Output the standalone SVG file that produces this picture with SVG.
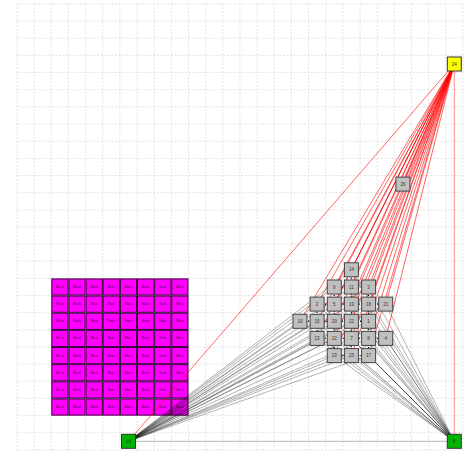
<svg xmlns="http://www.w3.org/2000/svg" width="474" height="456" viewBox="0 0 474 456">
<style>
.grid{stroke:#dcdcdc;stroke-width:0.8;stroke-dasharray:2 1.5;fill:none}
.red{stroke:#ff0000;stroke-opacity:0.75;stroke-width:0.8;fill:none}
.pink{stroke:#ff0000;stroke-opacity:0.45;stroke-width:1;fill:none}
.gry{stroke:#000;stroke-opacity:0.5;stroke-width:0.6;fill:none}
.adj{stroke:#000;stroke-width:1.2;stroke-dasharray:1 1;fill:none}
.n rect{fill:#c0c0c0;stroke:#444;stroke-width:1}
.n text,.b text,.g text,.y text{font-family:"Liberation Sans",Arial,sans-serif;font-size:4.5px;fill:#333;text-anchor:middle;dominant-baseline:central}
.g rect{fill:#00b400;stroke:#333;stroke-width:1}
.y rect{fill:#ffff00;stroke:#333;stroke-width:1}
.b rect{fill:#ff00ff;stroke:#3a003a;stroke-width:1}
.b text{font-size:3.2px;fill:#500050}
</style>
<rect width="474" height="456" fill="#fff"/>
<path class="grid" d="M17 4V450M34.15 4V450M51.3 4V450M68.45 4V450M85.6 4V450M102.75 4V450M119.9 4V450M137.05 4V450M154.2 4V450M171.35 4V450M188.5 4V450M205.65 4V450M222.8 4V450M239.95 4V450M257.1 4V450M274.25 4V450M291.4 4V450M308.55 4V450M325.7 4V450M342.85 4V450M360 4V450M377.15 4V450M394.3 4V450M411.45 4V450M428.6 4V450M445.75 4V450M462.9 4V450
M17 4H463M17 21.15H463M17 38.3H463M17 55.45H463M17 72.6H463M17 89.75H463M17 106.9H463M17 124.05H463M17 141.2H463M17 158.35H463M17 175.5H463M17 192.65H463M17 209.8H463M17 226.95H463M17 244.1H463M17 261.25H463M17 278.4H463M17 295.55H463M17 312.7H463M17 329.85H463M17 347H463M17 364.15H463M17 381.3H463M17 398.45H463M17 415.6H463M17 432.75H463M17 449.9H463"/>

<g id="blocks" class="b">
<g id="b-r0">
<rect x="51.8" y="278.9" width="16.2" height="16.2"/><text x="59.9" y="287">Block</text>
<rect x="68.9" y="278.9" width="16.2" height="16.2"/><text x="77" y="287">Block</text>
<rect x="86.1" y="278.9" width="16.2" height="16.2"/><text x="94.2" y="287">Block</text>
<rect x="103.2" y="278.9" width="16.2" height="16.2"/><text x="111.3" y="287">Block</text>
<rect x="120.4" y="278.9" width="16.2" height="16.2"/><text x="128.5" y="287">Block</text>
<rect x="137.5" y="278.9" width="16.2" height="16.2"/><text x="145.6" y="287">Block</text>
<rect x="154.7" y="278.9" width="16.2" height="16.2"/><text x="162.8" y="287">Block</text>
<rect x="171.8" y="278.9" width="16.2" height="16.2"/><text x="179.9" y="287">Block</text>
</g>
<g id="b-r1" transform="translate(0,17.15)">
<rect x="51.8" y="278.9" width="16.2" height="16.2"/><text x="59.9" y="287">Block</text>
<rect x="68.9" y="278.9" width="16.2" height="16.2"/><text x="77" y="287">Block</text>
<rect x="86.1" y="278.9" width="16.2" height="16.2"/><text x="94.2" y="287">Block</text>
<rect x="103.2" y="278.9" width="16.2" height="16.2"/><text x="111.3" y="287">Block</text>
<rect x="120.4" y="278.9" width="16.2" height="16.2"/><text x="128.5" y="287">Block</text>
<rect x="137.5" y="278.9" width="16.2" height="16.2"/><text x="145.6" y="287">Block</text>
<rect x="154.7" y="278.9" width="16.2" height="16.2"/><text x="162.8" y="287">Block</text>
<rect x="171.8" y="278.9" width="16.2" height="16.2"/><text x="179.9" y="287">Block</text>
</g>
<g id="b-r2" transform="translate(0,34.3)">
<rect x="51.8" y="278.9" width="16.2" height="16.2"/><text x="59.9" y="287">Block</text>
<rect x="68.9" y="278.9" width="16.2" height="16.2"/><text x="77" y="287">Block</text>
<rect x="86.1" y="278.9" width="16.2" height="16.2"/><text x="94.2" y="287">Block</text>
<rect x="103.2" y="278.9" width="16.2" height="16.2"/><text x="111.3" y="287">Block</text>
<rect x="120.4" y="278.9" width="16.2" height="16.2"/><text x="128.5" y="287">Block</text>
<rect x="137.5" y="278.9" width="16.2" height="16.2"/><text x="145.6" y="287">Block</text>
<rect x="154.7" y="278.9" width="16.2" height="16.2"/><text x="162.8" y="287">Block</text>
<rect x="171.8" y="278.9" width="16.2" height="16.2"/><text x="179.9" y="287">Block</text>
</g>
<g id="b-r3" transform="translate(0,51.45)">
<rect x="51.8" y="278.9" width="16.2" height="16.2"/><text x="59.9" y="287">Block</text>
<rect x="68.9" y="278.9" width="16.2" height="16.2"/><text x="77" y="287">Block</text>
<rect x="86.1" y="278.9" width="16.2" height="16.2"/><text x="94.2" y="287">Block</text>
<rect x="103.2" y="278.9" width="16.2" height="16.2"/><text x="111.3" y="287">Block</text>
<rect x="120.4" y="278.9" width="16.2" height="16.2"/><text x="128.5" y="287">Block</text>
<rect x="137.5" y="278.9" width="16.2" height="16.2"/><text x="145.6" y="287">Block</text>
<rect x="154.7" y="278.9" width="16.2" height="16.2"/><text x="162.8" y="287">Block</text>
<rect x="171.8" y="278.9" width="16.2" height="16.2"/><text x="179.9" y="287">Block</text>
</g>
<g id="b-r4" transform="translate(0,68.6)">
<rect x="51.8" y="278.9" width="16.2" height="16.2"/><text x="59.9" y="287">Block</text>
<rect x="68.9" y="278.9" width="16.2" height="16.2"/><text x="77" y="287">Block</text>
<rect x="86.1" y="278.9" width="16.2" height="16.2"/><text x="94.2" y="287">Block</text>
<rect x="103.2" y="278.9" width="16.2" height="16.2"/><text x="111.3" y="287">Block</text>
<rect x="120.4" y="278.9" width="16.2" height="16.2"/><text x="128.5" y="287">Block</text>
<rect x="137.5" y="278.9" width="16.2" height="16.2"/><text x="145.6" y="287">Block</text>
<rect x="154.7" y="278.9" width="16.2" height="16.2"/><text x="162.8" y="287">Block</text>
<rect x="171.8" y="278.9" width="16.2" height="16.2"/><text x="179.9" y="287">Block</text>
</g>
<g id="b-r5" transform="translate(0,85.75)">
<rect x="51.8" y="278.9" width="16.2" height="16.2"/><text x="59.9" y="287">Block</text>
<rect x="68.9" y="278.9" width="16.2" height="16.2"/><text x="77" y="287">Block</text>
<rect x="86.1" y="278.9" width="16.2" height="16.2"/><text x="94.2" y="287">Block</text>
<rect x="103.2" y="278.9" width="16.2" height="16.2"/><text x="111.3" y="287">Block</text>
<rect x="120.4" y="278.9" width="16.2" height="16.2"/><text x="128.5" y="287">Block</text>
<rect x="137.5" y="278.9" width="16.2" height="16.2"/><text x="145.6" y="287">Block</text>
<rect x="154.7" y="278.9" width="16.2" height="16.2"/><text x="162.8" y="287">Block</text>
<rect x="171.8" y="278.9" width="16.2" height="16.2"/><text x="179.9" y="287">Block</text>
</g>
<g id="b-r6" transform="translate(0,102.9)">
<rect x="51.8" y="278.9" width="16.2" height="16.2"/><text x="59.9" y="287">Block</text>
<rect x="68.9" y="278.9" width="16.2" height="16.2"/><text x="77" y="287">Block</text>
<rect x="86.1" y="278.9" width="16.2" height="16.2"/><text x="94.2" y="287">Block</text>
<rect x="103.2" y="278.9" width="16.2" height="16.2"/><text x="111.3" y="287">Block</text>
<rect x="120.4" y="278.9" width="16.2" height="16.2"/><text x="128.5" y="287">Block</text>
<rect x="137.5" y="278.9" width="16.2" height="16.2"/><text x="145.6" y="287">Block</text>
<rect x="154.7" y="278.9" width="16.2" height="16.2"/><text x="162.8" y="287">Block</text>
<rect x="171.8" y="278.9" width="16.2" height="16.2"/><text x="179.9" y="287">Block</text>
</g>
<g id="b-r7" transform="translate(0,120.05)">
<rect x="51.8" y="278.9" width="16.2" height="16.2"/><text x="59.9" y="287">Block</text>
<rect x="68.9" y="278.9" width="16.2" height="16.2"/><text x="77" y="287">Block</text>
<rect x="86.1" y="278.9" width="16.2" height="16.2"/><text x="94.2" y="287">Block</text>
<rect x="103.2" y="278.9" width="16.2" height="16.2"/><text x="111.3" y="287">Block</text>
<rect x="120.4" y="278.9" width="16.2" height="16.2"/><text x="128.5" y="287">Block</text>
<rect x="137.5" y="278.9" width="16.2" height="16.2"/><text x="145.6" y="287">Block</text>
<rect x="154.7" y="278.9" width="16.2" height="16.2"/><text x="162.8" y="287">Block</text>
<rect x="171.8" y="278.9" width="16.2" height="16.2"/><text x="179.9" y="287">Block</text>
</g>
</g>

<g id="connectors">
<path class="gry" d="M128.5 441.3H454.3"/>
<path class="gry" d="M128.5 441.3L351.4 269.8M128.5 441.3L334.3 287M128.5 441.3L351.4 287M128.5 441.3L368.6 287M128.5 441.3L317.1 304.1M128.5 441.3L334.3 304.1M128.5 441.3L351.4 304.1M128.5 441.3L368.6 304.1M128.5 441.3L385.7 304.1M128.5 441.3L300 321.3M128.5 441.3L317.1 321.3M128.5 441.3L334.3 321.3M128.5 441.3L351.4 321.3M128.5 441.3L368.6 321.3M128.5 441.3L317.1 338.4M128.5 441.3L334.3 338.4M128.5 441.3L351.4 338.4M128.5 441.3L368.6 338.4M128.5 441.3L385.7 338.4M128.5 441.3L334.3 355.6M128.5 441.3L351.4 355.6M128.5 441.3L368.6 355.6"/>
<path class="gry" d="M454.3 441.3L351.4 269.8M454.3 441.3L334.3 287M454.3 441.3L351.4 287M454.3 441.3L368.6 287M454.3 441.3L317.1 304.1M454.3 441.3L334.3 304.1M454.3 441.3L351.4 304.1M454.3 441.3L368.6 304.1M454.3 441.3L385.7 304.1M454.3 441.3L300 321.3M454.3 441.3L317.1 321.3M454.3 441.3L334.3 321.3M454.3 441.3L351.4 321.3M454.3 441.3L368.6 321.3M454.3 441.3L317.1 338.4M454.3 441.3L334.3 338.4M454.3 441.3L351.4 338.4M454.3 441.3L368.6 338.4M454.3 441.3L385.7 338.4M454.3 441.3L334.3 355.6M454.3 441.3L351.4 355.6M454.3 441.3L368.6 355.6"/>
<path class="red" d="M454.3 64L128.5 441.3M454.3 64L402.9 184.1"/>
<path class="pink" d="M454.3 64V441.3"/>
<path class="red" d="M454.3 64L351.4 269.8M454.3 64L334.3 287M454.3 64L351.4 287M454.3 64L368.6 287M454.3 64L317.1 304.1M454.3 64L334.3 304.1M454.3 64L351.4 304.1M454.3 64L368.6 304.1M454.3 64L385.7 304.1M454.3 64L300 321.3M454.3 64L317.1 321.3M454.3 64L334.3 321.3M454.3 64L351.4 321.3M454.3 64L368.6 321.3M454.3 64L317.1 338.4M454.3 64L334.3 338.4M454.3 64L351.4 338.4M454.3 64L368.6 338.4M454.3 64L385.7 338.4M454.3 64L334.3 355.6M454.3 64L351.4 355.6M454.3 64L368.6 355.6"/>
<path class="adj" d="M334.3 287H368.6M317.1 304.1H385.7M300 321.3H368.6M317.1 338.4H385.7M334.3 355.6H368.6M317.1 304.1V338.4M334.3 287V355.6M351.4 269.8V355.6M368.6 287V355.6"/>
</g>

<g id="n14" class="n"><rect x="344.4" y="262.8" width="14" height="14"/><text x="351.4" y="269.8">14</text></g>
<g id="n9" class="n"><rect x="327.3" y="280" width="14" height="14"/><text x="334.3" y="287">9</text></g>
<g id="n11" class="n"><rect x="344.4" y="280" width="14" height="14"/><text x="351.4" y="287">11</text></g>
<g id="n3" class="n"><rect x="361.6" y="280" width="14" height="14"/><text x="368.6" y="287">3</text></g>
<g id="n2" class="n"><rect x="310.1" y="297.1" width="14" height="14"/><text x="317.1" y="304.1">2</text></g>
<g id="n5" class="n"><rect x="327.3" y="297.1" width="14" height="14"/><text x="334.3" y="304.1">5</text></g>
<g id="n19" class="n"><rect x="344.4" y="297.1" width="14" height="14"/><text x="351.4" y="304.1">19</text></g>
<g id="n18" class="n"><rect x="361.6" y="297.1" width="14" height="14"/><text x="368.6" y="304.1">18</text></g>
<g id="n21" class="n"><rect x="378.7" y="297.1" width="14" height="14"/><text x="385.7" y="304.1">21</text></g>
<g id="n10" class="n"><rect x="293" y="314.3" width="14" height="14"/><text x="300" y="321.3">10</text></g>
<g id="n15" class="n"><rect x="310.1" y="314.3" width="14" height="14"/><text x="317.1" y="321.3">15</text></g>
<g id="n20" class="n"><rect x="327.3" y="314.3" width="14" height="14"/><text x="334.3" y="321.3">20</text></g>
<g id="n22" class="n"><rect x="344.4" y="314.3" width="14" height="14"/><text x="351.4" y="321.3">22</text></g>
<g id="n1" class="n"><rect x="361.6" y="314.3" width="14" height="14"/><text x="368.6" y="321.3">1</text></g>
<g id="n13" class="n"><rect x="310.1" y="331.4" width="14" height="14"/><text x="317.1" y="338.4">13</text></g>
<g id="n12" class="n"><rect x="327.3" y="331.4" width="14" height="14"/><text x="334.3" y="338.4">12</text></g>
<g id="n7" class="n"><rect x="344.4" y="331.4" width="14" height="14"/><text x="351.4" y="338.4">7</text></g>
<g id="n8" class="n"><rect x="361.6" y="331.4" width="14" height="14"/><text x="368.6" y="338.4">8</text></g>
<g id="n4" class="n"><rect x="378.7" y="331.4" width="14" height="14"/><text x="385.7" y="338.4">4</text></g>
<g id="n23" class="n"><rect x="327.3" y="348.6" width="14" height="14"/><text x="334.3" y="355.6">23</text></g>
<g id="n25" class="n"><rect x="344.4" y="348.6" width="14" height="14"/><text x="351.4" y="355.6">25</text></g>
<g id="n17" class="n"><rect x="361.6" y="348.6" width="14" height="14"/><text x="368.6" y="355.6">17</text></g>
<g id="n26" class="n"><rect x="395.9" y="177.1" width="14" height="14"/><text x="402.9" y="184.1">26</text></g>
<g id="n24" class="y"><rect x="447.3" y="57" width="14" height="14"/><text x="454.3" y="64">24</text></g>
<g id="n16" class="g"><rect x="121.5" y="434.3" width="14" height="14"/><text x="128.5" y="441.3">16</text></g>
<g id="n6" class="g"><rect x="447.3" y="434.3" width="14" height="14"/><text x="454.3" y="441.3">6</text></g>
</svg>
